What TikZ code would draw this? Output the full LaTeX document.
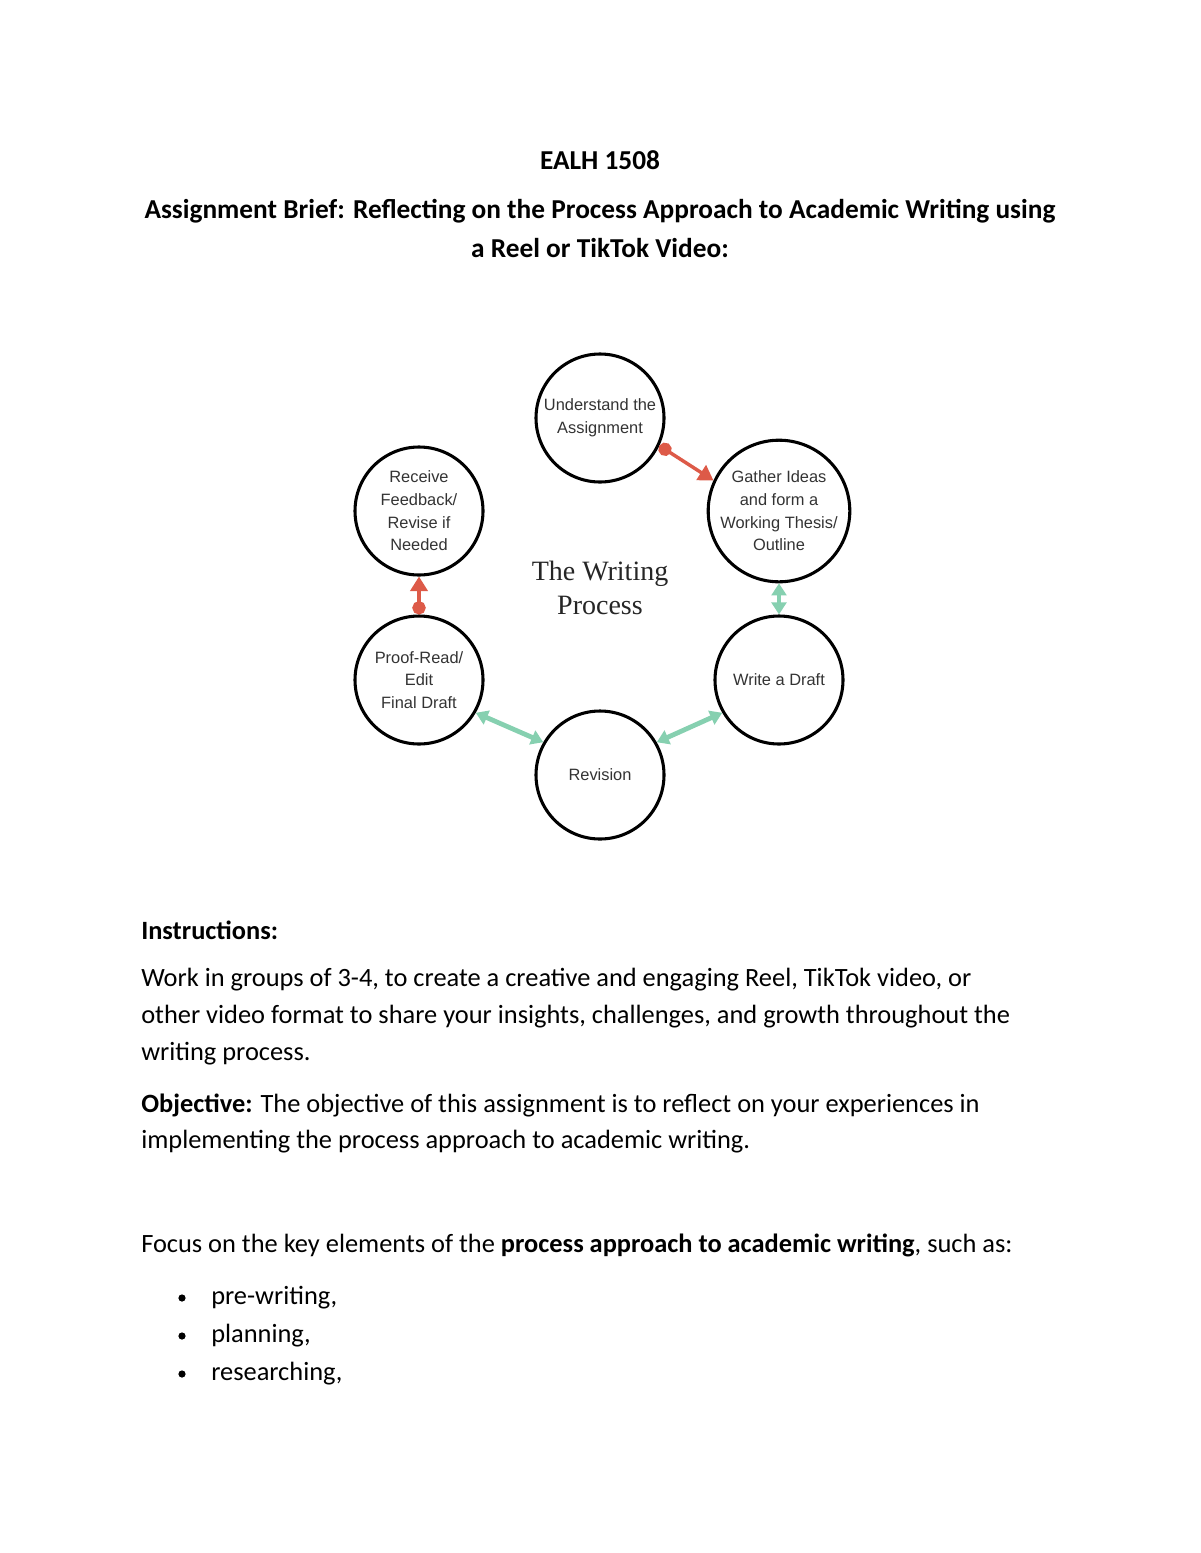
\documentclass[tikz,border=0pt]{standalone}
\usepackage{fontspec}
\setmainfont{Carlito}
\newfontfamily\arialf{Liberation Sans}
\newfontfamily\serift{Liberation Serif}
\usetikzlibrary{arrows.meta}
\definecolor{redA}{HTML}{DD5A48}
\definecolor{grnA}{HTML}{86D0B0}
\begin{document}
\begin{tikzpicture}[x=0.75pt,y=-0.75pt,
  stage/.style={circle,draw=black,line width=2.3pt,minimum size=96pt,inner sep=0pt,align=center,font=\arialf\fontsize{12.3}{17}\selectfont,text=black!80},
  body/.style={anchor=west,inner sep=0pt,font=\fontsize{19.8}{24}\selectfont},
  hd/.style={inner sep=0pt,font=\bfseries\fontsize{20.5}{24}\selectfont},
  redarr/.style={draw=redA,line width=2.6pt,{Circle[length=10pt]}-{Triangle[length=11pt,width=13pt]}},
  grnarr/.style={draw=grnA,line width=3.6pt,{Triangle[length=9pt,width=11pt]}-{Triangle[length=9pt,width=11pt]}}]
\useasboundingbox (0,0) rectangle (1200,1553);
\node[hd] (t0) at (600,160) {EALH 1508};
\node[hd] (t1) at (600,211) {Assignment Brief: Reflecting on the Process Approach to Academic Writing using};
\node[hd] (t2) at (600,248) {a Reel or TikTok Video:};

\node[stage] (u) at (600,418) {Understand the\\Assignment};
\node[stage] (g) at (779,511) {Gather Ideas\\and form a\\Working Thesis/\\Outline};
\node[stage] (w) at (779,680) {Write a Draft};
\node[stage] (r) at (600,775) {Revision};
\node[stage] (p) at (419,680) {Proof-Read/\\Edit\\Final Draft};
\node[stage] (f) at (419,511) {Receive\\Feedback/\\Revise if\\Needed};
\node[font=\serift\fontsize{21}{26}\selectfont,align=center,text=black!85] (c) at (600,588) {The Writing\\Process};

\draw[redarr] (u.-25) -- (g.155);
\draw[grnarr] (g.south) -- (w.north);
\draw[grnarr] (w.-150) -- (r.30);
\draw[grnarr] (r.150) -- (p.-30);
\draw[redarr] (p.north) -- (f.south);

\node[body] (i0) at (141,930) {\textbf{Instructions:}};
\node[body] (i1) at (141,980) {Work in groups of 3-4, to create a creative and engaging Reel, TikTok video, or};
\node[body] (i2) at (141,1017) {other video format to share your insights, challenges, and growth throughout the};
\node[body] (i3) at (141,1054) {writing process.};
\node[body] (o1) at (141,1105) {\textbf{Objective:} The objective of this assignment is to reflect on your experiences in};
\node[body] (o2) at (141,1142) {implementing the process approach to academic writing.};
\node[body] (fo) at (141,1245) {Focus on the key elements of the \textbf{process approach to academic writing}, such as:};
\foreach \y/\t [count=\k] in {1298/{pre-writing,},1336/{planning,},1374/{researching,}}{
  \fill (182,\y) circle (3.6);
  \node[body] (b\k) at (211,\y) {\t};
}
\end{tikzpicture}
\end{document}
